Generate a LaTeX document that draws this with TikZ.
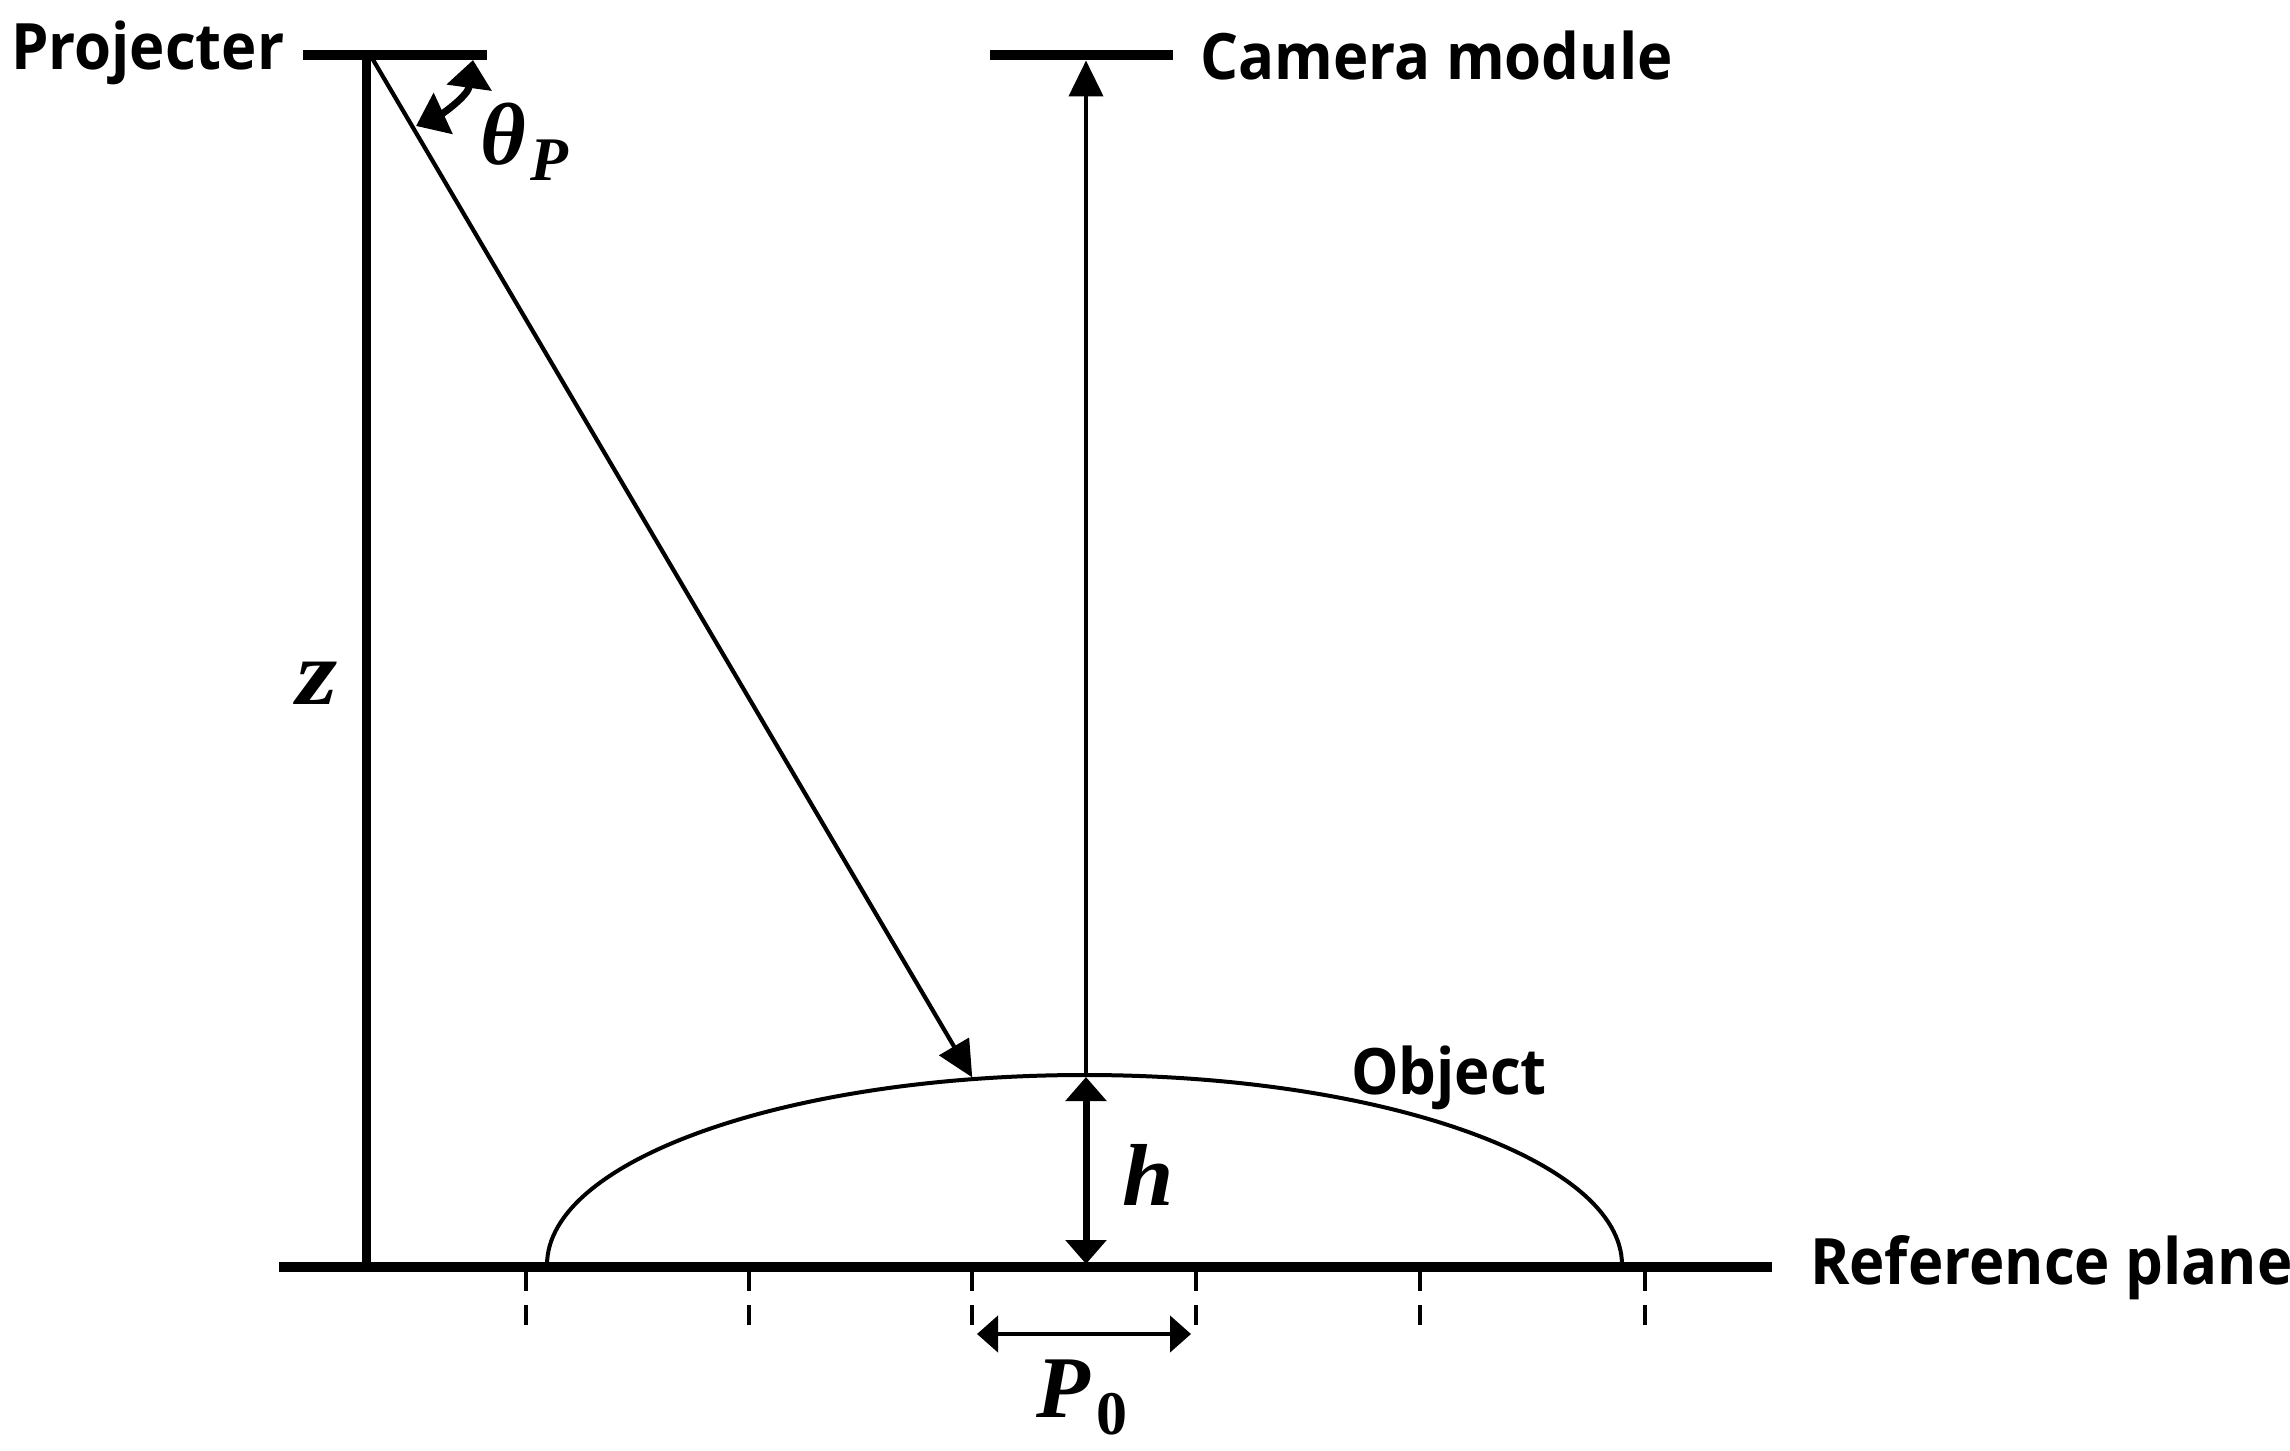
\documentclass[tikz,border=0pt]{standalone}
\usepackage{fontspec}
\usepackage{graphicx}
\setmainfont{Open Sans}
\newfontfamily\mathlike{Liberation Serif}
\usetikzlibrary{arrows.meta}
\newcommand{\condensed}[1]{\scalebox{0.935}[1]{#1}}
\tikzset{
  x=1pt,y=-1pt,
  heavy/.style={line width=10.5pt,line cap=butt},
  thickv/.style={line width=9pt},
  thinray/.style={line width=4.2pt,-{Triangle[length=36pt,width=34pt]},shorten >=-0.5pt},
  harrow/.style={line width=7pt,{Triangle[length=24pt,width=40pt]}-{Triangle[length=24pt,width=40pt]}},
  parrow/.style={line width=4.5pt,{Triangle[length=21pt,width=36pt]}-{Triangle[length=21pt,width=36pt]}},
  aarrow/.style={line width=7pt,{Triangle[length=30pt,width=44pt]}-{Triangle[length=28pt,width=44pt]}},
  tickmark/.style={line width=3.3pt,dash pattern=on 19pt off 14pt on 20pt off 100pt},
  objcurve/.style={line width=4pt},
  lab/.style={anchor=base west,inner sep=0pt,outer sep=0pt,font=\fontsize{64}{64}\selectfont\bfseries},
  sym/.style={anchor=base west,inner sep=0pt,outer sep=0pt,font=\fontsize{88}{88}\selectfont\mathlike\bfseries\itshape},
  subsym/.style={anchor=base west,inner sep=0pt,outer sep=0pt,font=\fontsize{62}{62}\selectfont\mathlike\bfseries\itshape},
  subnum/.style={anchor=base west,inner sep=0pt,outer sep=0pt,font=\fontsize{62}{62}\selectfont\mathlike\bfseries},
}
\begin{document}
\begin{tikzpicture}
\useasboundingbox (0,0) rectangle (2290,1450);
% anchor points
\coordinate (pl) at (303,55);
\coordinate (pr) at (487,55);
\coordinate (cl) at (990,55);
\coordinate (cr) at (1173,55);
\coordinate (rl) at (279,1267);
\coordinate (rr) at (1772,1267);
\coordinate (ptop) at (366,55);
\coordinate (pbot) at (366,1267);
\coordinate (rayS) at (372,58);
\coordinate (rayE) at (972,1077);
\coordinate (camS) at (1086,1077);
\coordinate (camE) at (1086,61);
\coordinate (hT) at (1086,1077);
\coordinate (hB) at (1086,1264);
\coordinate (p0L) at (977,1334);
\coordinate (p0R) at (1191,1334);
\coordinate (aL) at (416,126);
\coordinate (aR) at (473,60);
\coordinate (oL) at (547,1265);
% bars
\draw[heavy] (pl) -- (pr);
\draw[heavy] (cl) -- (cr);
\draw[heavy] (rl) -- (rr);
\draw[thickv] (ptop) -- (pbot);
% rays
\draw[thinray] (rayS) -- (rayE);
\draw[thinray] (camS) -- (camE);
% object
\draw[objcurve] (oL) arc[start angle=180,end angle=0,x radius=537.5,y radius=-190];
% dimension arrows
\draw[harrow] (hT) -- (hB);
\draw[parrow] (p0L) -- (p0R);
\draw[aarrow] (aL) .. controls (442,114) and (468,96) .. (aR);
% ticks
\foreach \tx in {526,749,972,1196,1420,1645}
  \draw[tickmark] (\tx,1272) -- (\tx,1326);
% labels
\node[lab] (projlabel) at (11,70) {\condensed{Projecter}};
\node[lab] (camlabel) at (1200,80) {\condensed{Camera module}};
\node[lab] (objlabel) at (1351,1094) {\condensed{Object}};
\node[lab] (reflabel) at (1810,1284) {\condensed{Reference plane}};
\node[sym] (theta) at (480,165) {θ};
\node[subsym] (thetasub) at (530,181) {P};
\node[sym] (zlab) at (296,704) {\scalebox{1.2}[1.05]{z}};
\node[sym] (hlab) at (1122,1205) {\scalebox{1.05}[1]{h}};
\node[sym] (plab) at (1036,1417) {P};
\node[subnum] (zero) at (1096,1434) {0};
\end{tikzpicture}
\end{document}
